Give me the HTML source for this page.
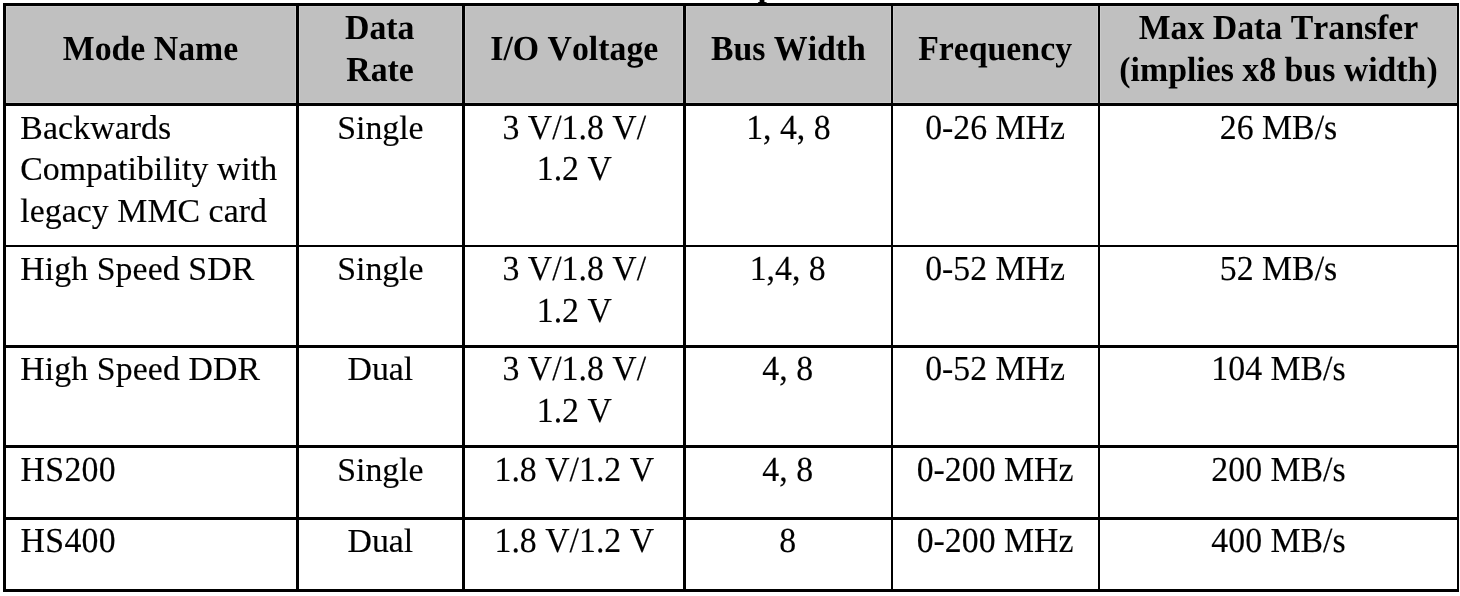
<!DOCTYPE html>
<html lang="en"><head><meta charset="utf-8"><title>eMMC bus speed modes</title>
<style>
html,body{margin:0;padding:0;background:#fff;}
body{width:1460px;height:596px;position:relative;overflow:hidden;font-family:"Liberation Serif",serif;font-size:33.8px;color:#000;font-kerning:none;font-variant-ligatures:none;}
.l{position:absolute;background:#000;}
.hd{position:absolute;top:6px;height:97px;background:#c0c0c0;box-shadow:inset 0 0 0 1px #cbcbcb;}
.t{position:absolute;white-space:nowrap;line-height:40px;height:40px;}
.c{text-align:center;width:400px;margin-left:-200px;}
.t{-webkit-text-stroke:0.15px #000;}
.b{font-weight:bold;-webkit-text-stroke:0;}
.b,.u{text-rendering:geometricPrecision;transform:scaleY(1.04);transform-origin:50% 31px;}
</style></head><body>
<div class="hd" style="left:6px;width:290px"></div>
<div class="hd" style="left:299px;width:163px"></div>
<div class="hd" style="left:465px;width:218px"></div>
<div class="hd" style="left:686px;width:205px"></div>
<div class="hd" style="left:893px;width:205px"></div>
<div class="hd" style="left:1100px;width:357px"></div>
<div class="t b" id="cap" style="left:757.6px;top:-34px;">p</div>
<div class="l" style="left:3px;top:3px;width:3px;height:589px"></div>
<div class="l" style="left:296px;top:3px;width:3px;height:589px"></div>
<div class="l" style="left:462px;top:3px;width:3px;height:589px"></div>
<div class="l" style="left:683px;top:3px;width:3px;height:589px"></div>
<div class="l" style="left:891px;top:3px;width:2px;height:589px"></div>
<div class="l" style="left:1098px;top:3px;width:2px;height:589px"></div>
<div class="l" style="left:1457px;top:3px;width:2px;height:589px"></div>
<div class="l" style="left:3px;top:3px;width:1456px;height:3px"></div>
<div class="l" style="left:3px;top:103px;width:1456px;height:3px"></div>
<div class="l" style="left:3px;top:245px;width:1456px;height:2px"></div>
<div class="l" style="left:3px;top:345px;width:1456px;height:3px"></div>
<div class="l" style="left:3px;top:445px;width:1456px;height:3px"></div>
<div class="l" style="left:3px;top:517px;width:1456px;height:3px"></div>
<div class="l" style="left:3px;top:589px;width:1456px;height:3px"></div>
<div class="t b c" id="i0" style="top:30.00px;left:150.50px;">Mode Name</div>
<div class="t b c" id="i1" style="top:9.00px;left:379.80px;">Data</div>
<div class="t b c" id="i2" style="top:51.00px;left:380.00px;">Rate</div>
<div class="t b c" id="i3" style="top:30.00px;left:574.30px;">I/O Voltage</div>
<div class="t b c" id="i4" style="top:30.00px;left:788.40px;">Bus Width</div>
<div class="t b c" id="i5" style="top:30.00px;left:995.10px;">Frequency</div>
<div class="t b c" id="i6" style="top:9.00px;left:1278.50px;">Max Data Transfer</div>
<div class="t b c" id="i7" style="top:51.00px;left:1278.50px;">(implies x8 bus width)</div>
<div class="t" id="i8" style="top:108.00px;left:20.30px;letter-spacing:0.100px;">Backwards</div>
<div class="t" id="i9" style="top:149.00px;left:20.30px;letter-spacing:0.030px;">Compatibility with</div>
<div class="t" id="i10" style="top:191.00px;left:20.30px;letter-spacing:0.050px;">legacy MMC card</div>
<div class="t c" id="i11" style="top:108.00px;left:380.40px;">Single</div>
<div class="t u c" id="i12" style="top:109.00px;left:574.30px;">3 V/1.8 V/</div>
<div class="t u c" id="i13" style="top:150.00px;left:574.30px;">1.2 V</div>
<div class="t u c" id="i14" style="top:109.00px;left:788.40px;">1, 4, 8</div>
<div class="t u c" id="i15" style="top:109.00px;left:995.10px;">0-26 MHz</div>
<div class="t u c" id="i16" style="top:109.00px;left:1278.50px;">26 MB/s</div>
<div class="t" id="i17" style="top:249.00px;left:20.30px;letter-spacing:0.080px;">High Speed SDR</div>
<div class="t c" id="i18" style="top:249.00px;left:380.40px;">Single</div>
<div class="t u c" id="i19" style="top:250.00px;left:574.30px;">3 V/1.8 V/</div>
<div class="t u c" id="i20" style="top:292.00px;left:574.30px;">1.2 V</div>
<div class="t u c" id="i21" style="top:250.00px;left:787.70px;">1,4, 8</div>
<div class="t u c" id="i22" style="top:250.00px;left:995.10px;">0-52 MHz</div>
<div class="t u c" id="i23" style="top:250.00px;left:1278.50px;">52 MB/s</div>
<div class="t" id="i24" style="top:349.00px;left:20.30px;letter-spacing:0.100px;">High Speed DDR</div>
<div class="t c" id="i25" style="top:349.00px;left:380.40px;">Dual</div>
<div class="t u c" id="i26" style="top:350.00px;left:574.30px;">3 V/1.8 V/</div>
<div class="t u c" id="i27" style="top:392.00px;left:574.30px;">1.2 V</div>
<div class="t u c" id="i28" style="top:350.00px;left:787.70px;">4, 8</div>
<div class="t u c" id="i29" style="top:350.00px;left:995.10px;">0-52 MHz</div>
<div class="t u c" id="i30" style="top:350.00px;left:1278.50px;">104 MB/s</div>
<div class="t u" id="i31" style="top:451.00px;left:20.60px;letter-spacing:0.300px;">HS200</div>
<div class="t c" id="i32" style="top:450.00px;left:380.40px;">Single</div>
<div class="t u c" id="i33" style="top:451.00px;left:574.30px;">1.8 V/1.2 V</div>
<div class="t u c" id="i34" style="top:451.00px;left:787.70px;">4, 8</div>
<div class="t u c" id="i35" style="top:451.00px;left:995.10px;">0-200 MHz</div>
<div class="t u c" id="i36" style="top:451.00px;left:1278.50px;">200 MB/s</div>
<div class="t u" id="i37" style="top:522.00px;left:20.60px;letter-spacing:0.300px;">HS400</div>
<div class="t c" id="i38" style="top:521.00px;left:380.40px;">Dual</div>
<div class="t u c" id="i39" style="top:522.00px;left:574.30px;">1.8 V/1.2 V</div>
<div class="t u c" id="i40" style="top:522.00px;left:787.70px;">8</div>
<div class="t u c" id="i41" style="top:522.00px;left:995.10px;">0-200 MHz</div>
<div class="t u c" id="i42" style="top:522.00px;left:1278.50px;">400 MB/s</div>
</body></html>
